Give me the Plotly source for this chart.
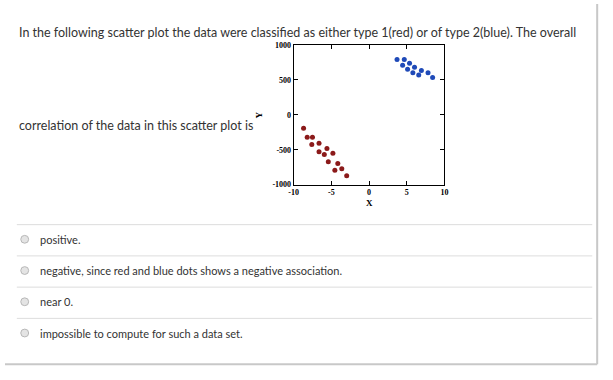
import plotly.graph_objects as go

W, H = 613, 380

# ---- data ----
red_x = [-8.69, -8.21, -7.51, -7.60, -6.64, -6.64, -5.59, -5.94, -4.80, -5.41, -4.15, -4.54, -3.62, -2.97]
red_y = [-192, -322, -322, -425, -407, -528, -481, -570, -551, -673, -696, -794, -771, -874]
blue_x = [3.71, 4.67, 4.45, 5.37, 5.11, 6.03, 5.81, 6.94, 6.59, 7.82, 8.43]
blue_y = [794, 794, 710, 738, 654, 682, 603, 636, 570, 603, 533]
x_ticks = [-10, -5, 0, 5, 10]
y_ticks = [-1000, -500, 0, 500, 1000]

question_1 = "In the following scatter plot the data were classified as either type 1(red) or of type 2(blue). The overall"
question_2 = "correlation of the data in this scatter plot is"
options = [
    "positive.",
    "negative, since red and blue dots shows a negative association.",
    "near 0.",
    "impossible to compute for such a data set.",
]


def px(x):
    return x / W


def py(y):
    return 1 - y / H


fig = go.Figure()
fig.add_trace(go.Scatter(x=red_x, y=red_y, mode="markers",
                         marker=dict(color="#8b1a1a", size=5), showlegend=False, hoverinfo="skip"))
fig.add_trace(go.Scatter(x=blue_x, y=blue_y, mode="markers",
                         marker=dict(color="#1f4ab8", size=5), showlegend=False, hoverinfo="skip"))

tickfont = dict(family="Liberation Serif", size=8, color="black", weight="bold")
axis_common = dict(showline=True, linecolor="black", linewidth=1, mirror="ticks",
                   ticks="inside", ticklen=4, tickcolor="black", showgrid=False,
                   zeroline=False, tickfont=tickfont)

fig.update_layout(
    width=W, height=H,
    margin=dict(l=0, r=0, t=0, b=0),
    paper_bgcolor="white", plot_bgcolor="white",
    xaxis=dict(domain=[px(293), px(446)], range=[-10, 10], tickvals=x_ticks,
               ticktext=[str(v) for v in x_ticks], **axis_common),
    yaxis=dict(domain=[py(185), py(42)], range=[-1000, 1000], tickvals=y_ticks,
               ticktext=[str(v) for v in y_ticks], **axis_common),
)

ann = []
ann.append(dict(text="X", x=px(370), y=py(204), xref="paper", yref="paper", showarrow=False,
                font=dict(family="Liberation Serif", size=9, color="black", weight="bold"),
                xanchor="center", yanchor="middle"))
ann.append(dict(text="Y", x=px(258), y=py(114), xref="paper", yref="paper", showarrow=False,
                textangle=-90,
                font=dict(family="Liberation Serif", size=9, color="black", weight="bold"),
                xanchor="center", yanchor="middle"))
qfont = dict(family="Lato", size=12.5, color="#333333")
ann.append(dict(text=question_1, x=px(12), y=py(29), xref="paper", yref="paper", showarrow=False,
                font=qfont, xanchor="left", yanchor="middle"))
ann.append(dict(text=question_2, x=px(12), y=py(124), xref="paper", yref="paper", showarrow=False,
                font=qfont, xanchor="left", yanchor="middle"))

opt_y = [241, 273, 305, 337]
sep_y = [226, 258, 290, 322]
shapes = []
ofont = dict(family="Lato", size=11, color="#333333")
for t, yy in zip(options, opt_y):
    ann.append(dict(text=t, x=px(33), y=py(yy), xref="paper", yref="paper", showarrow=False,
                    font=ofont, xanchor="left", yanchor="middle"))
    r = 4
    shapes.append(dict(type="circle", xref="paper", yref="paper",
                       x0=px(20 - r), x1=px(20 + r), y0=py(yy + r), y1=py(yy - r),
                       line=dict(color="#b8b8b8", width=1), fillcolor="#e4e4e4"))
for yy in sep_y:
    shapes.append(dict(type="line", xref="paper", yref="paper",
                       x0=px(12), x1=px(596), y0=py(yy), y1=py(yy),
                       line=dict(color="#dddddd", width=1)))
# page frame
shapes.append(dict(type="line", xref="paper", yref="paper", x0=px(601), x1=px(601), y0=py(0), y1=py(369),
                   line=dict(color="#c8c8c8", width=2)))
shapes.append(dict(type="line", xref="paper", yref="paper", x0=px(0), x1=px(601), y0=py(369), y1=py(369),
                   line=dict(color="#c8c8c8", width=2)))

fig.update_layout(annotations=ann, shapes=shapes)
fig.write_html("out.html")
